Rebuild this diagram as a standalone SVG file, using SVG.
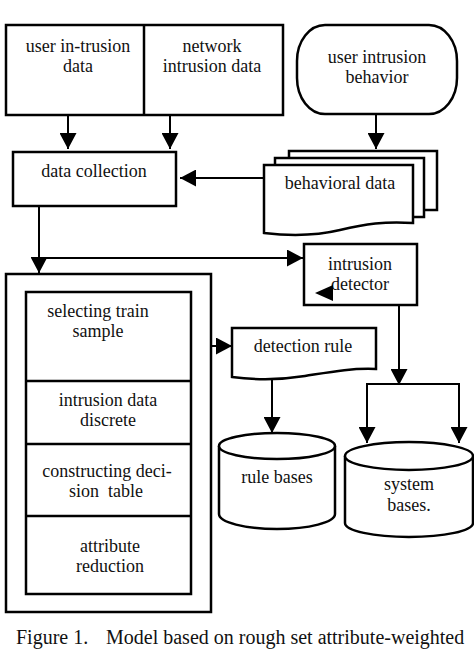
<svg xmlns="http://www.w3.org/2000/svg" width="474" height="650" viewBox="0 0 474 650">
<style>
.b{fill:#fff;stroke:#000;stroke-width:2.5}
.t{font-family:"Liberation Serif","Times New Roman",serif;font-size:18px;fill:#111;text-anchor:middle}
.c{fill:none;stroke:#000;stroke-width:2}
.cap{font-family:"Liberation Serif","Times New Roman",serif;font-size:20px;fill:#111}
</style>
<defs>
<marker id="ah" markerWidth="16" markerHeight="17" refX="16" refY="8.5" orient="auto" markerUnits="userSpaceOnUse">
<path d="M0,0 L16,8.5 L0,17 Z" fill="#000"/>
</marker>
</defs>
<rect width="474" height="650" fill="#fff"/>
<g id="sources">
<rect class="b" x="6" y="25" width="277" height="90"/>
<line class="b" x1="144" y1="25" x2="144" y2="115"/>
<text class="t" x="78" y="52">user in-trusion</text>
<text class="t" x="78" y="72">data</text>
<text class="t" x="212" y="52">network</text>
<text class="t" x="212" y="72">intrusion data</text>
</g>
<g id="behavior">
<rect class="b" x="297" y="25" width="160" height="89" rx="28" ry="36"/>
<text class="t" x="377" y="63">user intrusion</text>
<text class="t" x="377" y="83">behavior</text>
</g>
<g id="collection">
<rect class="b" x="13" y="152" width="163" height="54"/>
<text class="t" x="94" y="177">data collection</text>
</g>
<g id="behavioral">
<rect class="b" x="289" y="151" width="148" height="59"/>
<rect class="b" x="275" y="158" width="149" height="59"/>
<path class="b" d="M264,165 H413 V223 C385,221 365,224 340,230 C315,236 290,236 264,233 Z"/>
<text class="t" x="340" y="189">behavioral data</text>
</g>
<g id="detector">
<rect class="b" x="304" y="244" width="113" height="61"/>
<text class="t" x="360" y="270">intrusion</text>
<text class="t" x="360" y="290">detector</text>
<path d="M315,293 L333,285 L333,301 Z" fill="#000"/>
</g>
<g id="process">
<rect class="b" x="6" y="274" width="205" height="338"/>
<rect class="b" x="26" y="292" width="165" height="302"/>
<line class="b" x1="26" y1="381" x2="191" y2="381"/>
<line class="b" x1="26" y1="444" x2="191" y2="444"/>
<line class="b" x1="26" y1="516" x2="191" y2="516"/>
<text class="t" x="98" y="317">selecting train</text>
<text class="t" x="98" y="337">sample</text>
<text class="t" x="108" y="406">intrusion data</text>
<text class="t" x="108" y="426">discrete</text>
<text class="t" x="107" y="477">constructing deci-</text>
<text class="t" x="106" y="497" xml:space="preserve">sion  table</text>
<text class="t" x="110" y="552">attribute</text>
<text class="t" x="110" y="572">reduction</text>
</g>
<g id="rule">
<path class="b" d="M232,328 H376 V369 C350,368 330,372 305,376 C280,380 255,380 232,377 Z"/>
<text class="t" x="303" y="352">detection rule</text>
</g>
<g id="rulebases">
<path class="b" d="M219,446 V514 A58,15 0 0 0 335,514 V446"/>
<ellipse class="b" cx="277" cy="446" rx="58" ry="13"/>
<text class="t" x="277" y="483">rule bases</text>
</g>
<g id="systembases">
<path class="b" d="M345,456 V523 A64,14 0 0 0 473,523 V456"/>
<ellipse class="b" cx="409" cy="456" rx="64" ry="14"/>
<text class="t" x="409" y="490">system</text>
<text class="t" x="409" y="511">bases.</text>
</g>
<g id="connectors">
<line class="c" x1="68" y1="115" x2="68" y2="149" marker-end="url(#ah)"/>
<line class="c" x1="170" y1="115" x2="170" y2="149" marker-end="url(#ah)"/>
<line class="c" x1="376" y1="114" x2="376" y2="149" marker-end="url(#ah)"/>
<line class="c" x1="264" y1="178" x2="180" y2="178" marker-end="url(#ah)"/>
<line class="c" x1="39" y1="206" x2="39" y2="273" marker-end="url(#ah)"/>
<line class="c" x1="39" y1="258" x2="303" y2="258" marker-end="url(#ah)"/>
<line class="c" x1="211" y1="346" x2="232" y2="346" marker-end="url(#ah)"/>
<line class="c" x1="272" y1="379" x2="272" y2="433" marker-end="url(#ah)"/>
<line class="c" x1="399" y1="305" x2="399" y2="385" marker-end="url(#ah)"/>
<polyline class="c" points="367,443 367,384 459,384 459,443"/>
<line class="c" x1="367" y1="384" x2="367" y2="443" marker-end="url(#ah)"/>
<line class="c" x1="459" y1="384" x2="459" y2="443" marker-end="url(#ah)"/>
</g>
<text class="cap" y="644"><tspan x="16">Figure 1.</tspan><tspan x="106">Model based on rough set attribute-weighted</tspan></text>
</svg>
